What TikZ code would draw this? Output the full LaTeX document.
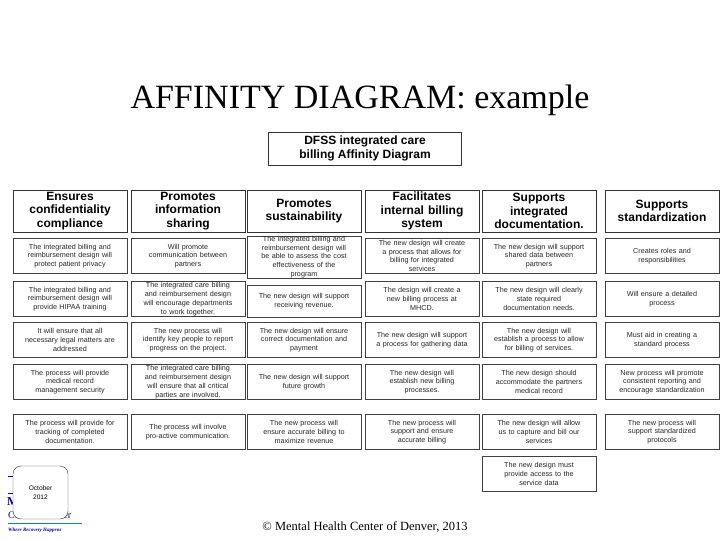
\documentclass[tikz,border=0pt]{standalone}
\usepackage{fontspec}
\setmainfont{Liberation Serif}
\newfontfamily\arial{Liberation Sans}
\begin{document}
\begin{tikzpicture}[x=1pt,y=-1pt,
 head/.style={draw=black!80,line width=0.8pt,minimum width=114pt,minimum height=42pt,text width=112pt,align=center,font=\arial\bfseries\fontsize{12}{13.2}\selectfont,inner sep=1pt},
 cell/.style={draw=black!75,line width=0.6pt,minimum width=114pt,minimum height=35pt,text width=114pt,align=center,font=\arial\fontsize{7.2}{8.8}\selectfont,text=black!85,inner sep=0pt}]
\useasboundingbox[fill=white] (0,0) rectangle (720,540);
\node[font=\fontsize{34}{36}\selectfont] (title) at (360,100) {AFFINITY DIAGRAM: example};
\node[draw=black!80,line width=0.9pt,minimum width=193pt,minimum height=33pt,align=center,font=\arial\bfseries\fontsize{12}{14}\selectfont] (dfss) at (365,148.5) {DFSS integrated care\\billing Affinity Diagram};
% headers
\node[head] (h1) at (70,211) {Ensures\\confidentiality\\compliance};
\node[head] (h2) at (188,211) {Promotes\\information\\sharing};
\node[head] (h3) at (304,211) {Promotes\\sustainability};
\node[head] (h4) at (422,211) {Facilitates\\internal billing\\system};
\node[head] (h5) at (539,211) {Supports\\integrated\\documentation.};
\node[head] (h6) at (662,211) {Supports\\standardization};
% column 1
\node[cell] (a1) at (70,256) {The integrated billing and\\reimbursement design will\\protect patient privacy};
\node[cell] (a2) at (70,299) {The integrated billing and\\reimbursement design will\\provide HIPAA training};
\node[cell] (a3) at (70,340) {It will ensure that all\\necessary legal matters are\\addressed};
\node[cell] (a4) at (70,382) {The process will provide\\medical record\\management security};
\node[cell] (a5) at (70,432) {The process will provide for\\tracking of completed\\documentation.};
% column 2
\node[cell] (b1) at (188,256) {Will promote\\communication between\\partners};
\node[cell] (b2) at (188,299) {The integrated care billing\\and reimbursement design\\will encourage departments\\to work together.};
\node[cell] (b3) at (188,340) {The new process will\\identify key people to report\\progress on the project.};
\node[cell] (b4) at (188,382) {The integrated care billing\\and reimbursement design\\will ensure that all critical\\parties are involved.};
\node[cell] (b5) at (188,432) {The process will involve\\pro-active communication.};
% column 3
\node[cell,minimum height=40pt] (c1) at (304,257) {The integrated billing and\\reimbursement design will\\be able to assess the cost\\effectiveness of the\\program};
\node[cell,minimum height=32pt] (c2) at (304,301) {The new design will support\\receiving revenue.};
\node[cell] (c3) at (304,340) {The new design will ensure\\correct documentation and\\payment};
\node[cell] (c4) at (304,382) {The new design will support\\future growth};
\node[cell] (c5) at (304,432) {The new process will\\ensure accurate billing to\\maximize revenue};
% column 4
\node[cell] (d1) at (422,256) {The new design will create\\a process that allows for\\billing for integrated\\services};
\node[cell] (d2) at (422,299) {The design will create a\\new billing process at\\MHCD.};
\node[cell] (d3) at (422,340) {The new design will support\\a process for gathering data};
\node[cell] (d4) at (422,382) {The new design will\\establish new billing\\processes.};
\node[cell] (d5) at (422,432) {The new process will\\support and ensure\\accurate billing};
% column 5
\node[cell] (e1) at (539,256) {The new design will support\\shared data between\\partners};
\node[cell] (e2) at (539,299) {The new design will clearly\\state required\\documentation needs.};
\node[cell] (e3) at (539,340) {The new design will\\establish a process to allow\\for billing of services.};
\node[cell] (e4) at (539,382) {The new design should\\accommodate the partners\\medical record};
\node[cell] (e5) at (539,432) {The new design will allow\\us to capture and bill our\\services};
\node[cell] (e6) at (539,474) {The new design must\\provide access to the\\service data};
% column 6
\node[cell] (f1) at (662,256) {Creates roles and\\responsibilities};
\node[cell] (f2) at (662,299) {Will ensure a detailed\\process};
\node[cell] (f3) at (662,340) {Must aid in creating a\\standard process};
\node[cell] (f4) at (662,382) {New process will promote\\consistent reporting and\\encourage standardization};
\node[cell] (f5) at (662,432) {The new process will\\support standardized\\protocols};
% logo fragments
\draw[blue!60!black,line width=0.6pt] (8,476) -- (13,476);
\draw[blue!60!black,line width=0.6pt] (8,493) -- (13,493);
\draw[cyan!60!blue,line width=0.6pt] (8,523) -- (82,523);
\node[anchor=west,text=blue!60!black,font=\bfseries\fontsize{12}{12}\selectfont,inner sep=0pt] (lm) at (7,502) {M};
\node[anchor=west,text=blue!60!black,font=\fontsize{10}{10}\selectfont,inner sep=0pt] (lc) at (8,515) {Center\,•\,Denver};
\node[anchor=west,text=blue!60!black,font=\itshape\bfseries\fontsize{5}{5}\selectfont,inner sep=0pt] (lw) at (8,530) {Where Recovery Happens};
\node[draw=black!80,fill=white,rounded corners=8pt,minimum width=55pt,minimum height=53pt,align=center,font=\arial\fontsize{6.6}{8.6}\selectfont] (oct) at (40.5,492.5) {October\\2012};
\node[font=\fontsize{12.5}{14}\selectfont] (foot) at (365,527) {© Mental Health Center of Denver, 2013};
\end{tikzpicture}
\end{document}
